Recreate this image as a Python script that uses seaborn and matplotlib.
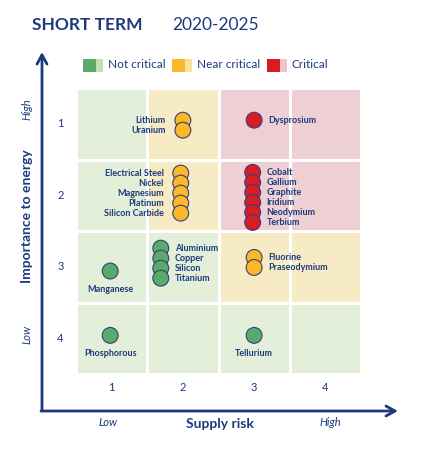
import numpy as np
import matplotlib.pyplot as plt
import pandas as pd
import seaborn as sns
from matplotlib.colors import ListedColormap
from matplotlib.patches import Rectangle

# grid of criticality: rows = importance 1..4, columns = supply risk 1..4
# 0 = not critical, 1 = near critical, 2 = critical
risk_levels = [1, 2, 3, 4]
importance_levels = [1, 2, 3, 4]
cell_status = [[0, 1, 2, 2],
               [0, 1, 2, 2],
               [0, 0, 1, 1],
               [0, 0, 0, 0]]

# materials
materials = ['Lithium', 'Uranium', 'Dysprosium',
             'Electrical Steel', 'Nickel', 'Magnesium', 'Platinum', 'Silicon Carbide',
             'Cobalt', 'Gallium', 'Graphite', 'Iridium', 'Neodymium', 'Terbium',
             'Manganese', 'Aluminium', 'Copper', 'Silicon', 'Titanium',
             'Fluorine', 'Praseodymium', 'Phosphorous', 'Tellurium']
supply_risk = [2.0, 2.0, 3.0,
               1.97, 1.97, 1.97, 1.97, 1.97,
               2.98, 2.98, 2.98, 2.98, 2.98, 2.98,
               0.98, 1.69, 1.69, 1.69, 1.69,
               3.0, 3.0, 0.98, 3.0]
importance = [0.95, 1.09, 0.95,
              1.69, 1.83, 1.97, 2.11, 2.25,
              1.68, 1.82, 1.96, 2.10, 2.24, 2.38,
              3.06, 2.74, 2.88, 3.02, 3.16,
              2.87, 3.01, 3.96, 3.96]
status = ['Near critical', 'Near critical', 'Critical',
          'Near critical', 'Near critical', 'Near critical', 'Near critical', 'Near critical',
          'Critical', 'Critical', 'Critical', 'Critical', 'Critical', 'Critical',
          'Not critical', 'Not critical', 'Not critical', 'Not critical', 'Not critical',
          'Near critical', 'Near critical', 'Not critical', 'Not critical']
label_side = ['left', 'left', 'right',
              'left', 'left', 'left', 'left', 'left',
              'right', 'right', 'right', 'right', 'right', 'right',
              'below', 'right', 'right', 'right', 'right',
              'right', 'right', 'below', 'below']

status_names = ['Not critical', 'Near critical', 'Critical']
dot_colors = ['#5aab6a', '#fbb829', '#d91c24']
cell_colors = ['#e3efd9', '#f6ebc5', '#eed0d4']
light_colors = ['#c4e1b6', '#f8e39a', '#f0c4c8']
navy = '#1c3a7c'

sns.set_theme(style='white')
plt.rcParams['font.family'] = ['Lato', 'DejaVu Sans']

fig = plt.figure(figsize=(4.22, 4.5), dpi=100)
ax = fig.add_axes([76 / 422, 1 - 374 / 450, 285 / 422, 286 / 450])

grid = pd.DataFrame(cell_status, index=importance_levels, columns=risk_levels)
sns.heatmap(grid, cmap=ListedColormap(cell_colors), vmin=-0.5, vmax=2.5,
            linewidths=2, linecolor='white', cbar=False, ax=ax)

df = pd.DataFrame({'material': materials, 'x': np.array(supply_risk) - 0.5,
                   'y': np.array(importance) - 0.5, 'status': status})
sns.scatterplot(data=df, x='x', y='y', hue='status', hue_order=status_names,
                palette=dot_colors, s=130, edgecolor='#34407a', linewidth=0.8,
                legend=False, ax=ax, zorder=3)

offsets = {'left': ((-17, 0), 'right'), 'right': ((14, 0), 'left'),
           'below': ((0, -18), 'center')}
for name, x, y, side in zip(df['material'], df['x'], df['y'], label_side):
    off, ha = offsets[side]
    ax.annotate(name, (x, y), xytext=off, textcoords='offset pixels',
                ha=ha, va='center', fontsize=6.5, fontweight='bold', color=navy)

ax.set_xlim(0, 4)
ax.set_ylim(4, 0)
ax.set_xlabel('')
ax.set_ylabel('')
ax.tick_params(axis='x', length=0, pad=6, labelsize=8, labelcolor=navy)
ax.tick_params(axis='y', length=0, pad=9, labelsize=8, labelcolor=navy)
plt.setp(ax.get_yticklabels(), rotation=0)
for s in ax.spines.values():
    s.set_visible(False)

# axis arrows
arrow = dict(arrowstyle='->,head_length=0.55,head_width=0.3', lw=2, color=navy,
             shrinkA=0, shrinkB=0)
ax.annotate('', xy=(42, 450 - 52), xytext=(42, 450 - 411),
            xycoords='figure pixels', textcoords='figure pixels', arrowprops=arrow)
ax.annotate('', xy=(398, 450 - 411), xytext=(41, 450 - 411),
            xycoords='figure pixels', textcoords='figure pixels', arrowprops=arrow)

# axis captions
fig.text(27 / 422, 1 - 216 / 450, 'Importance to energy', rotation=90, ha='center',
         va='center', fontsize=10, fontweight='bold', color=navy)
fig.text(27 / 422, 1 - 109 / 450, 'High', rotation=90, ha='center', va='center',
         fontsize=8, style='italic', color=navy)
fig.text(27 / 422, 1 - 334 / 450, 'Low', rotation=90, ha='center', va='center',
         fontsize=8, style='italic', color=navy)
fig.text(220 / 422, 1 - 424 / 450, 'Supply risk', ha='center', va='center',
         fontsize=10, fontweight='bold', color=navy)
fig.text(108 / 422, 1 - 423 / 450, 'Low', ha='center', va='center',
         fontsize=8, style='italic', color=navy)
fig.text(330 / 422, 1 - 423 / 450, 'High', ha='center', va='center',
         fontsize=8, style='italic', color=navy)

# title
fig.text(32 / 422, 1 - 25 / 450, 'SHORT TERM', ha='left', va='center',
         fontsize=12.5, fontweight='bold', color=navy)
fig.text(172 / 422, 1 - 25 / 450, '2020-2025', ha='left', va='center',
         fontsize=12.5, color=navy)

# legend with two-tone swatches
legend_x = [83, 172, 267]
for lx, name, dark, light in zip(legend_x, status_names, dot_colors, light_colors):
    fig.patches.append(Rectangle((lx / 422, 1 - 72 / 450), 13 / 422, 13 / 450,
                                 transform=fig.transFigure, color=dark, lw=0))
    fig.patches.append(Rectangle(((lx + 13) / 422, 1 - 72 / 450), 7 / 422, 13 / 450,
                                 transform=fig.transFigure, color=light, lw=0))
    fig.text((lx + 25) / 422, 1 - 65 / 450, name, ha='left', va='center',
             fontsize=8.5, color=navy)

fig.savefig('out.png', dpi=100)
